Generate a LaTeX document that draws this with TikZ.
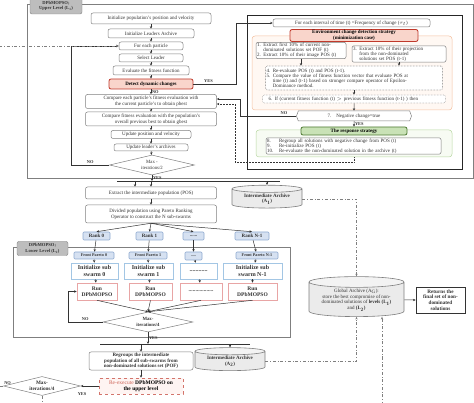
\documentclass[tikz,border=0pt]{standalone}
\usepackage{fontspec}
\setmainfont{Liberation Serif}
\usetikzlibrary{arrows.meta,shapes.geometric,shapes.symbols}
\definecolor{ink}{HTML}{333333}
\definecolor{boxline}{HTML}{7F7F7F}
\definecolor{tabfill}{HTML}{BDBDBD}
\definecolor{alarm}{HTML}{C0392B}
\definecolor{alarmbg}{HTML}{F9D5CB}
\definecolor{zoneline}{HTML}{F4C09F}
\definecolor{zonebg}{HTML}{FFF8F3}
\definecolor{leaf}{HTML}{4E7A33}
\definecolor{leafbg}{HTML}{C9E2B6}
\definecolor{leafzone}{HTML}{B8D8A3}
\definecolor{leafzonebg}{HTML}{F7FBF3}
\definecolor{rankline}{HTML}{8EA9CF}
\definecolor{rankbg}{HTML}{D6E1F1}
\definecolor{swarmline}{HTML}{A3C6E4}
\definecolor{runline}{HTML}{E8A5A5}
\definecolor{archbg}{HTML}{EBEBEB}
\tikzset{
  procbox/.style={rectangle,rounded corners=2pt,draw=boxline,fill=white,text=ink,
    inner sep=1pt,align=center,font=\fontsize{5}{5.6}\selectfont,line width=0.5pt},
  alarmbox/.style={procbox,draw=alarm,fill=alarmbg,text=black,
    font=\fontsize{5}{5.4}\selectfont\bfseries,line width=0.8pt},
  greenbox/.style={procbox,draw=leaf,fill=leafbg,text=black,
    font=\fontsize{5}{5.4}\selectfont\bfseries,line width=0.8pt},
  notebox/.style={procbox,align=left,font=\fontsize{5}{4.9}\selectfont},
  dotbox/.style={notebox,densely dotted,line width=0.6pt},
  hexbox/.style={signal,signal to=west and east,signal pointer angle=140,draw=boxline,
    fill=white,text=ink,inner sep=1pt,font=\fontsize{5}{5.6}\selectfont,line width=0.5pt},
  zonebox/.style={rectangle,rounded corners=3pt,draw=zoneline,fill=zonebg,line width=0.5pt},
  greenzone/.style={zonebox,draw=leafzone,fill=leafzonebg},
  tabbox/.style={rectangle,rounded corners=2pt,draw=gray,fill=tabfill,text=ink,align=center,
    inner sep=1pt,font=\fontsize{4.6}{5.2}\selectfont\bfseries},
  rankbox/.style={rectangle,rounded corners=1pt,draw=rankline,fill=rankbg,text=ink,
    inner sep=1pt,font=\fontsize{5}{5.6}\selectfont\bfseries,line width=0.6pt},
  frontbox/.style={rankbox,font=\fontsize{4.2}{5}\selectfont\bfseries},
  swarmbox/.style={rectangle,draw=swarmline,fill=white,text=ink,align=center,inner sep=1pt,
    font=\fontsize{6}{6.6}\selectfont\bfseries,line width=0.6pt},
  runbox/.style={swarmbox,draw=runline,font=\fontsize{5.5}{6}\selectfont\bfseries},
  stopbox/.style={rectangle,draw=alarm!70,dashed,fill=alarmbg!25,text=black,align=center,
    inner sep=1pt,font=\fontsize{5.5}{6.2}\selectfont,line width=0.6pt},
  endbox/.style={rectangle,draw=black!80,fill=white,text=ink,align=center,inner sep=1pt,
    font=\fontsize{5.2}{5.8}\selectfont\bfseries,line width=0.8pt},
  testbox/.style={diamond,aspect=4,draw=boxline,fill=white,text=ink,inner sep=0pt,
    align=center,font=\fontsize{4.8}{5.4}\selectfont,line width=0.5pt},
  archive/.style={cylinder,shape border rotate=90,aspect=0.15,draw=boxline,
    cylinder uses custom fill,cylinder body fill=archbg,cylinder end fill=archbg!60,
    text=ink,align=center,inner sep=1pt,font=\fontsize{5}{5.6}\selectfont\bfseries,
    line width=0.6pt},
  flow/.style={-{Stealth[length=2.6pt,width=2.4pt]},line width=0.5pt,color=ink},
  link/.style={flow,dash dot,color=boxline},
  wire/.style={line width=0.5pt,color=ink},
  lbl/.style={font=\fontsize{4.4}{5}\selectfont\bfseries,text=ink,inner sep=0.8pt},
}

\begin{document}
\begin{tikzpicture}[x=1pt,y=-1pt]
  \useasboundingbox (0,0) rectangle (474,403);

  % upper level frame
  \draw[boxline,line width=0.6pt] (27,4) rectangle (473,178);
  \node[tabbox,minimum width=52pt,minimum height=16pt] (uptab) at (56,6) {DPbMOPSO;\\Upper Level (L\textsubscript{1})};

  \node[procbox,minimum width=120pt,minimum height=11pt] (initpop) at (151,18.5) {Initialize population's position and velocity};
  \node[procbox,minimum width=86pt,minimum height=9pt] (initlead) at (151,33.5) {Initialize Leaders Archive};
  \node[procbox,minimum width=64pt,minimum height=8pt] (each) at (151,46) {For each particle};
  \node[procbox,minimum width=64pt,minimum height=8pt] (select) at (151,58) {Select Leader};
  \node[procbox,minimum width=76pt,minimum height=9pt] (evalfit) at (151,70.5) {Evaluate the fitness function};
  \node[alarmbox,minimum width=84pt,minimum height=10pt] (detect) at (151,84) {Detect dynamic changes};
  \node[procbox,minimum width=131pt,minimum height=14pt] (pbest) at (151,101.5) {Compare each particle's fitness evaluation with\\the current particle's to obtain pbest};
  \node[procbox,minimum width=131pt,minimum height=14pt] (gbest) at (151,119) {Compare fitness evaluation with the population's\\overall previous best to obtain gbest};
  \node[procbox,minimum width=80pt,minimum height=8pt] (updpos) at (151,134.5) {Update position and velocity};
  \node[procbox,minimum width=74pt,minimum height=7pt] (updlead) at (151,147.5) {Update leader's archives};
  \node[testbox,minimum width=85pt,minimum height=20pt] (maxtwo) at (152,165) {Max -\\iterations/2};

  \draw[flow] (initpop) -- (initlead);
  \draw[flow] (initlead) -- (each);
  \draw[flow] (each) -- (select);
  \draw[flow] (select) -- (evalfit);
  \draw[flow] (evalfit) -- (detect);
  \draw[flow] (detect) -- node[lbl,right]{NO} (pbest);
  \draw[flow] (pbest) -- (gbest);
  \draw[flow] (gbest) -- (updpos);
  \draw[flow] (updpos) -- (updlead);
  \draw[flow] (updlead) -- (maxtwo);
  \draw[flow] (maxtwo.west) -- node[lbl,above,pos=0.5]{NO} ++(-38,0) |- (each.west);

  % change detection and response
  \draw[black!85,line width=0.9pt] (247,15) rectangle (462,169);
  \node[zonebox,minimum width=200pt,minimum height=74pt] (envzone) at (352,73) {};
  \node[greenzone,minimum width=196pt,minimum height=27pt] (respzone) at (354,143.5) {};
  \node[procbox,minimum width=157pt,minimum height=8pt] (interval) at (351.5,23) {For each interval of time (t) =Frequency of change (\(\tau_t\))};
  \node[alarmbox,minimum width=128pt,minimum height=11pt] (envhead) at (354,35.5) {Environment change detection strategy\\(minimization case)};
  \node[notebox,text width=88pt,minimum height=16pt] (stepa) at (301,50.5) {1. Extract first 10\% of current non-\\\phantom{1. }dominated solutions set POF (t)\\2. Extract 10\% of their image POS (t)};
  \node[notebox,text width=92pt,minimum height=16pt] (stepb) at (399,54) {3. Extract 10\% of their projection\\\phantom{3. }from the non-dominated\\\phantom{3. }solutions set POS (t-1)};
  \node[dotbox,text width=175pt,minimum height=24pt] (stepc) at (354,78) {4. Re-evaluate POS (t) and POS (t-1).\\5. Compare the value of fitness function vector that evaluate POS at\\\phantom{5. }time (t) and (t-1) based on stronger compare operator of Epsilon-\\\phantom{5. }Dominance method.};
  \node[dotbox,draw=boxline!70,text width=181pt,minimum height=8pt] (stepd) at (354,99) {\quad 6. If (current fitness function (t) \(>\) previous fitness function (t-1) ) then};
  \node[hexbox,minimum width=115pt,minimum height=10pt] (negchg) at (354,116) {7.\quad Negative change=true};
  \node[greenbox,minimum width=106pt,minimum height=8pt] (resphead) at (354,131) {The response strategy};
  \node[notebox,text width=173pt,minimum height=16pt] (stepe) at (353.5,146) {\makebox[12pt][l]{8.}Regroup all solutions with negative change from POS (t)\\\makebox[12pt][l]{9.}Re-initialize POS (t)\\\makebox[12pt][l]{10.}Re-evaluate the non-dominated solution in the archive (t)};

  \draw[flow] (detect.east) -- node[lbl,above,pos=0.35]{YES} ++(43,0) |- (interval.west);
  \draw[flow] (stepa.south) -- (stepa.south |- stepc.north);
  \draw[flow] (stepb.south) -- (stepb.south |- stepc.north);
  \draw[flow] (stepc) -- (stepd);
  \draw[flow] (stepd) -- (negchg);
  \draw[flow] (negchg) -- node[lbl,right]{YES} (resphead);
  \draw[flow] (negchg.west) -- node[lbl,above,pos=0.22]{NO} ++(-56,0) |- ([yshift=2.5pt]pbest.east);
  \draw[flow,densely dotted] (respzone.south) |- (235,162) |- ([yshift=-2.5pt]pbest.east);

  % intermediate population
  \coordinate (upbusl) at (117,181);
  \coordinate (upbusr) at (280,181);
  \draw[wire] (upbusl) -- (upbusr);
  \node[procbox,minimum width=131pt,minimum height=12pt] (extract) at (151,193) {Extract the intermediate population (POS)};
  \node[procbox,minimum width=131pt,minimum height=18pt] (divide) at (151,214) {Divided population using Pareto Ranking\\Operator to construct the N sub-swarms};
  \node[archive,minimum width=70pt,minimum height=22pt] (archone) at (267,199) {Intermediate Archive\\(A\textsubscript{1})};
  \node[rankbox,minimum width=27pt,minimum height=8pt] (rank0) at (96.5,236) {Rank 0};
  \node[rankbox,minimum width=27pt,minimum height=8pt] (rank1) at (149.5,236) {Rank 1};
  \node[rankbox,minimum width=21pt,minimum height=8pt] (rankd) at (193.5,236) {......};
  \node[rankbox,minimum width=34pt,minimum height=8pt] (rankn) at (252,236) {Rank N-1};

  \draw[flow] (maxtwo.south) -- node[lbl,right]{YES} (maxtwo.south |- upbusl);
  \draw[flow] ([xshift=-16pt]extract.north |- upbusl) -- ([xshift=-16pt]extract.north);
  \draw[flow] (extract.north |- upbusl) -- (extract.north);
  \draw[flow] (archone.north |- upbusl) -- (archone.north);
  \draw[flow] (extract) -- (divide);
  \draw[flow] (divide.south) -- (rank0.north);
  \draw[flow] (divide.south) -- (rank1.north);
  \draw[flow] (divide.south) -- (rankd.north);
  \draw[flow] (divide.south) -- (rankn.north);

  % lower level
  \draw[boxline,line width=0.6pt] (13,247) rectangle (290,337);
  \node[tabbox,minimum width=51pt,minimum height=14pt] (lowtab) at (42.5,248.5) {DPbMOPSO;\\Lower Level (L\textsubscript{2})};
  \node[frontbox,minimum width=40pt,minimum height=7pt] (front0) at (94,255.5) {Front Pareto 0};
  \node[frontbox,minimum width=38pt,minimum height=7pt] (front1) at (148,255.5) {Front Pareto 1};
  \node[frontbox,minimum width=17pt,minimum height=8pt] (frontd) at (193.5,256) {.....};
  \node[frontbox,minimum width=42pt,minimum height=7pt] (frontn) at (257,255.5) {Front Pareto N-1};
  \node[swarmbox,minimum width=47pt,minimum height=16pt] (init0) at (94.5,271) {Initialize sub\\swarm 0};
  \node[swarmbox,minimum width=49pt,minimum height=16pt] (init1) at (148.5,271) {Initialize sub\\swarm 1};
  \node[swarmbox,minimum width=37pt,minimum height=16pt] (initd) at (198.5,271) {............};
  \node[swarmbox,minimum width=59pt,minimum height=16pt] (initn) at (252.5,271) {Initialize sub\\swarm N-1};
  \node[runbox,minimum width=40pt,minimum height=17pt] (run0) at (97,291.5) {Run\\DPbMOPSO};
  \node[runbox,minimum width=43pt,minimum height=17pt] (run1) at (150.5,291.5) {Run\\DPbMOPSO};
  \node[runbox,minimum width=42pt,minimum height=17pt] (rund) at (201,291.5) {..................};
  \node[runbox,minimum width=49pt,minimum height=17pt] (runn) at (252.5,291.5) {Run\\DPbMOPSO};
  \node[testbox,minimum width=90pt,minimum height=20pt,font=\fontsize{4.8}{5.4}\selectfont\bfseries] (maxfour) at (148,322) {Max-\\iterations/4};

  \draw[flow] (rank0) -- (front0);
  \draw[flow] (rank1) -- (front1);
  \draw[flow] (rankd) -- (frontd);
  \draw[flow] (rankn) -- (frontn);
  \draw[flow] (front0) -- (init0);
  \draw[flow] (front1) -- (init1);
  \draw[flow] (frontd) -- (initd);
  \draw[flow] (frontn) -- (initn);
  \draw[flow] (init0) -- (run0);
  \draw[flow] (init1) -- (run1);
  \draw[flow] (initd) -- (rund);
  \draw[flow] (initn) -- (runn);
  \draw[flow] (run0.south) -- (maxfour.north);
  \draw[flow] (run1.south) -- (maxfour.north);
  \draw[flow] (rund.south) -- (maxfour.north);
  \draw[flow] (runn.south) -- (maxfour.north);
  \draw[flow] (maxfour.west) -- node[lbl,above,pos=0.5]{NO} ++(-35,0) |- (run0.west);

  % regrouping and archives
  \coordinate (lowbusl) at (100,344);
  \coordinate (lowbusr) at (250,344);
  \draw[wire] (lowbusl) -- (lowbusr);
  \node[procbox,minimum width=104pt,minimum height=18pt,font=\fontsize{5}{5.6}\selectfont\bfseries] (regroup) at (141,361) {Regroups the intermediate\\population of all sub-swarms from\\non-dominated solutions set (POF)};
  \node[archive,minimum width=70pt,minimum height=23pt] (archtwo) at (230,361.5) {Intermediate Archive\\(A\textsubscript{2})};
  \node[stopbox,minimum width=84pt,minimum height=16pt] (reexec) at (141,386) {{\color{alarm!80}Re-execute} \textbf{DPbMOPSO on}\\\textbf{the upper level}};
  \node[testbox,minimum width=77pt,minimum height=19pt,font=\fontsize{5.2}{5.8}\selectfont\bfseries] (maxlast) at (42,386) {Max-\\iterations/4};
  \node[archive,minimum width=95pt,minimum height=40pt,font=\fontsize{5}{5.8}\selectfont] (global) at (356.5,300) {Global Archive (A\textsubscript{G}):\\store the best compromise of non-\\dominated solutions of \textbf{levels (L\textsubscript{1})}\\and \textbf{(L\textsubscript{2})}};
  \node[endbox,minimum width=49pt,minimum height=26pt] (final) at (440.5,300) {Returns the\\final set of non-\\dominated\\solutions};
  \coordinate (outlast) at (42,412);
  \coordinate (inglobal) at (382,412);

  \draw[flow] (maxfour.south) -- node[lbl,right]{YES} (maxfour.south |- lowbusl);
  \draw[flow] (regroup.north |- lowbusl) -- (regroup.north);
  \draw[flow] (archtwo.north |- lowbusl) -- (archtwo.north);
  \draw[flow] (regroup) -- (reexec);
  \draw[flow] (reexec) -- (maxlast);
  \draw[link] (maxlast.west) -- node[lbl,above right,pos=0]{NO} ++(-12,0) |- (each.west);
  \draw[link] (maxlast.south) -- (outlast);
  \node[lbl,anchor=north west] (lastyes) at ([xshift=-4pt,yshift=-6pt]maxlast.east) {YES};
  \draw[link] (archone.east) -| (global.north);
  \draw[link] (archtwo.east) -| (global.south);
  \draw[link] (inglobal) -- (inglobal |- global.south);
  \draw[flow] (global) -- (final);
\end{tikzpicture}
\end{document}
